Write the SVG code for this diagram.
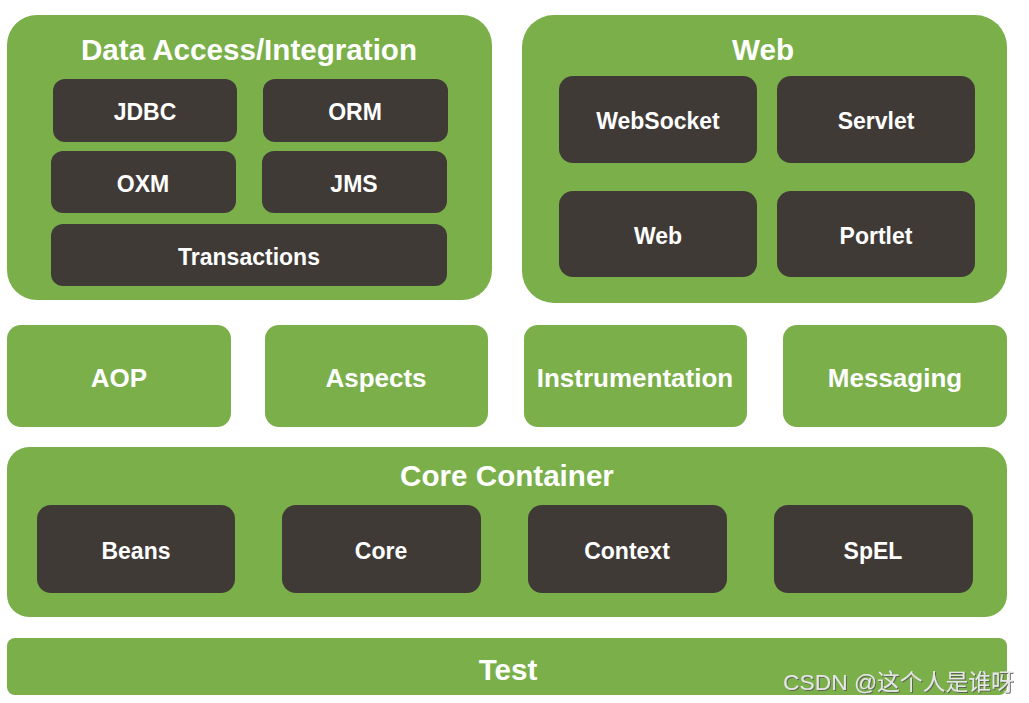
<svg xmlns="http://www.w3.org/2000/svg" width="1029" height="703" viewBox="0 0 1029 703">
<defs>
<style>
.grp{fill:#7aaf4a}
.mod{fill:#403a37}
.t{font-family:"Liberation Sans",Arial,sans-serif;font-weight:bold;fill:#ffffff;text-anchor:middle}
.title{font-size:29.6px}
.lbl{font-size:23px}
.mid{font-size:26px}
.wm{font-family:"Liberation Sans","Noto Sans CJK SC",sans-serif;font-size:22.8px;fill:#e6e6e6;filter:url(#sh)}
</style>
<filter id="sh" x="-5%" y="-20%" width="110%" height="140%">
<feDropShadow dx="1" dy="1" stdDeviation="0.6" flood-color="#555" flood-opacity="0.8"/>
</filter>
</defs>
<rect width="1029" height="703" fill="#ffffff"/>

<g id="data-access">
<rect class="grp" x="7" y="15" width="485" height="285" rx="30"/>
<text class="t title" x="249" y="60">Data Access/Integration</text>
</g>
<g id="jdbc"><rect class="mod" x="53" y="79" width="184" height="63" rx="12"/><text class="t lbl" x="145" y="120">JDBC</text></g>
<g id="orm"><rect class="mod" x="263" y="79" width="185" height="63" rx="12"/><text class="t lbl" x="355" y="120">ORM</text></g>
<g id="oxm"><rect class="mod" x="51" y="151" width="185" height="62" rx="12"/><text class="t lbl" x="143" y="192">OXM</text></g>
<g id="jms"><rect class="mod" x="262" y="151" width="185" height="62" rx="12"/><text class="t lbl" x="354" y="192">JMS</text></g>
<g id="transactions"><rect class="mod" x="51" y="224" width="396" height="62" rx="12"/><text class="t lbl" x="249" y="265">Transactions</text></g>

<g id="web-group">
<rect class="grp" x="522" y="15" width="485" height="288" rx="32"/>
<text class="t title" x="763" y="60">Web</text>
</g>
<g id="websocket"><rect class="mod" x="559" y="76" width="198" height="87" rx="14"/><text class="t lbl" x="658" y="129">WebSocket</text></g>
<g id="servlet"><rect class="mod" x="777" y="76" width="198" height="87" rx="14"/><text class="t lbl" x="876" y="129">Servlet</text></g>
<g id="web"><rect class="mod" x="559" y="191" width="198" height="86" rx="14"/><text class="t lbl" x="658" y="244">Web</text></g>
<g id="portlet"><rect class="mod" x="777" y="191" width="198" height="86" rx="14"/><text class="t lbl" x="876" y="244">Portlet</text></g>

<g id="aop"><rect class="grp" x="7" y="325" width="224" height="102" rx="14"/><text class="t mid" x="119" y="387">AOP</text></g>
<g id="aspects"><rect class="grp" x="265" y="325" width="223" height="102" rx="14"/><text class="t mid" x="376" y="387">Aspects</text></g>
<g id="instrumentation"><rect class="grp" x="524" y="325" width="223" height="102" rx="14"/><text class="t mid" x="635" y="387">Instrumentation</text></g>
<g id="messaging"><rect class="grp" x="783" y="325" width="224" height="102" rx="14"/><text class="t mid" x="895" y="387">Messaging</text></g>

<g id="core-container">
<rect class="grp" x="7" y="447" width="1000" height="170" rx="22"/>
<text class="t title" x="507" y="486">Core Container</text>
</g>
<g id="beans"><rect class="mod" x="37" y="505" width="198" height="88" rx="14"/><text class="t lbl" x="136" y="559">Beans</text></g>
<g id="core"><rect class="mod" x="282" y="505" width="199" height="88" rx="14"/><text class="t lbl" x="381" y="559">Core</text></g>
<g id="context"><rect class="mod" x="528" y="505" width="199" height="88" rx="14"/><text class="t lbl" x="627" y="559">Context</text></g>
<g id="spel"><rect class="mod" x="774" y="505" width="199" height="88" rx="14"/><text class="t lbl" x="873" y="559">SpEL</text></g>

<g id="test"><rect class="grp" x="7" y="638" width="1000" height="57" rx="8"/><text class="t title" x="508" y="680">Test</text></g>

<g id="connectors"></g>

<text class="wm" x="783" y="690">CSDN @这个人是谁呀</text>
</svg>
